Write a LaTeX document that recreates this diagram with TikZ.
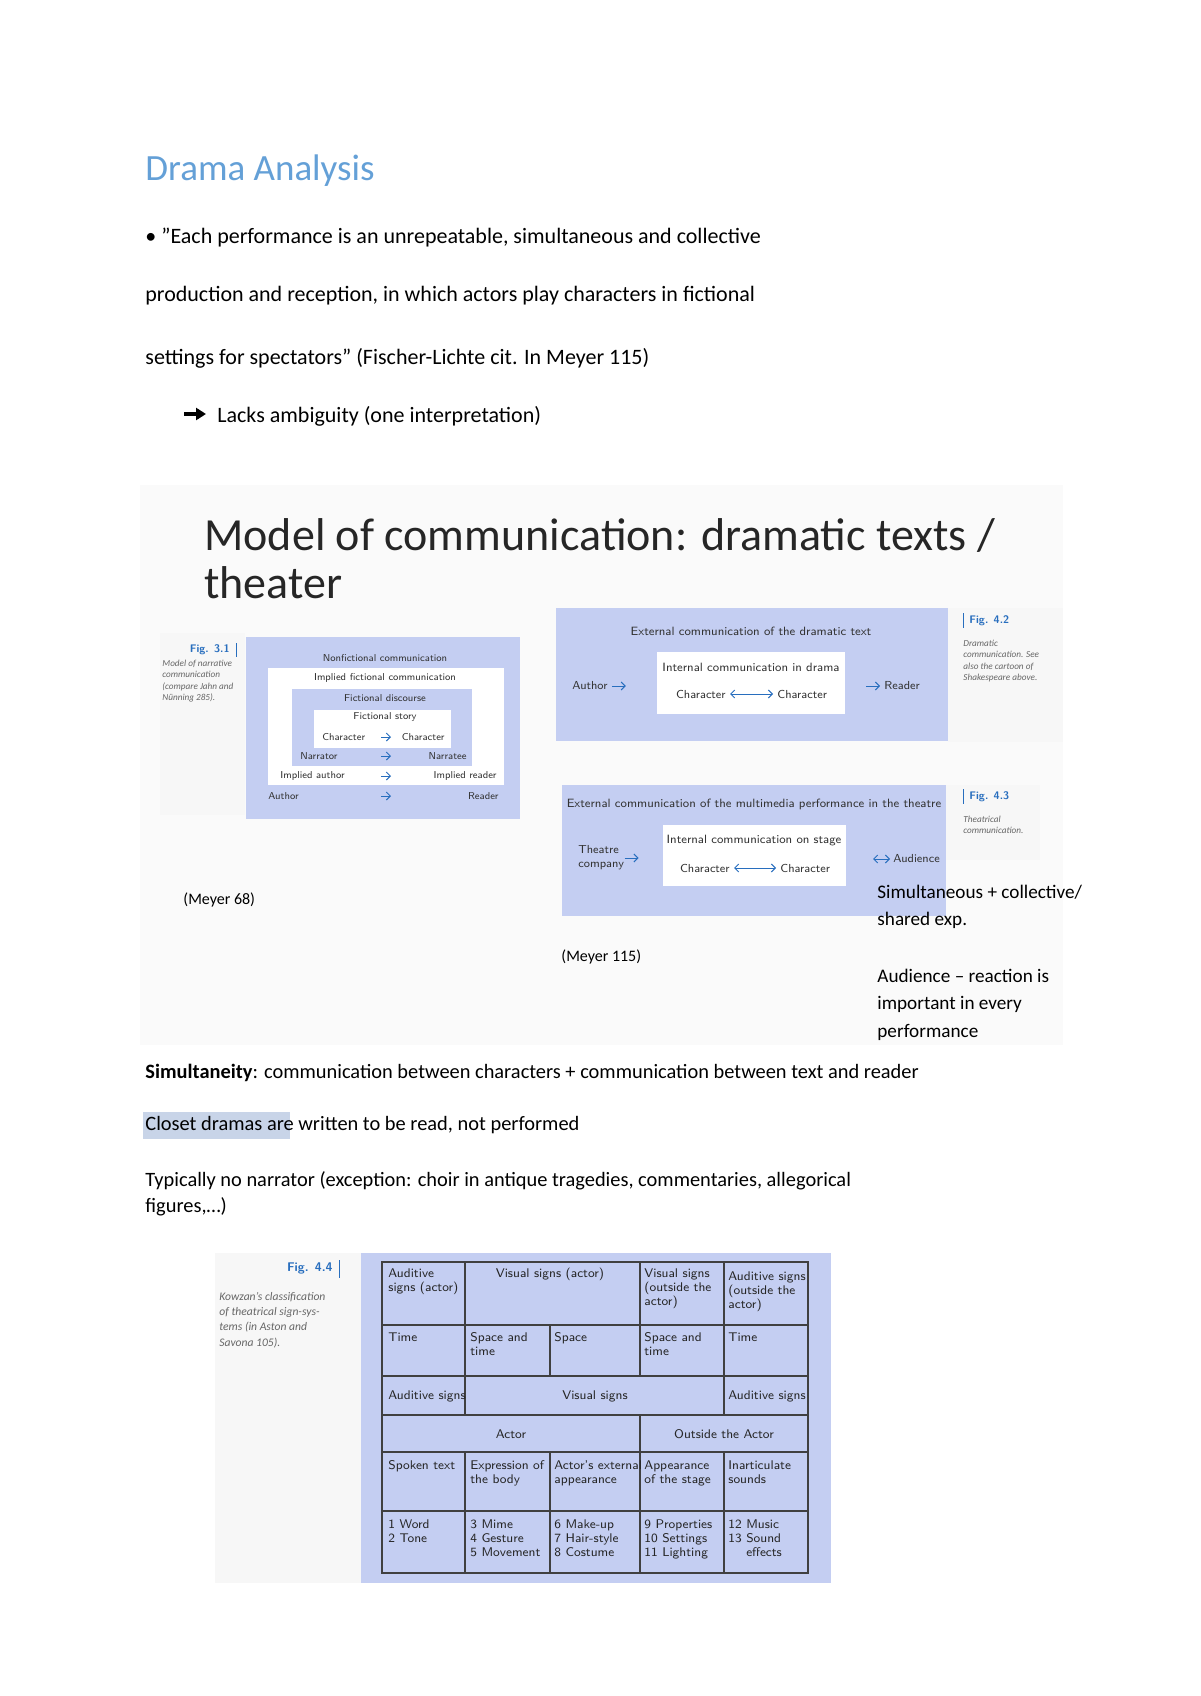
\documentclass[tikz,border=0pt]{standalone}
\usepackage{fontspec}
\setmainfont{Carlito}
\usetikzlibrary{arrows.meta,calc}
\definecolor{boxblue}{RGB}{196,206,242}
\definecolor{titleblue}{RGB}{100,160,215}
\definecolor{figblue}{RGB}{40,110,190}
\definecolor{hl}{RGB}{200,212,232}
\tikzset{
 body/.style={anchor=west,font=\fontsize{11}{13}\selectfont,inner sep=0},
 ft/.style={font=\sffamily\fontsize{5}{6}\selectfont,inner sep=0,text=black!80},
 fta/.style={font=\sffamily\fontsize{5.8}{7}\selectfont,inner sep=0,text=black!80},
 captxt/.style={font=\itshape\fontsize{4.6}{5.6}\selectfont,inner sep=0,text=black!60,anchor=north west,align=left},
 figl/.style={font=\sffamily\bfseries\fontsize{5.5}{6}\selectfont,text=figblue,inner sep=0},
 barr/.style={-{Straight Barb[length=2pt]},figblue,line width=0.5pt},
 darr/.style={{Straight Barb[length=2pt]}-{Straight Barb[length=2pt]},figblue,line width=0.5pt},
 cell/.style={font=\sffamily\fontsize{6.3}{7.2}\selectfont,inner sep=0,anchor=north west,align=left,text=black!85},
 tline/.style={line width=0.7pt,black!75}
}
\begin{document}
\begin{tikzpicture}[x=0.5pt,y=-0.5pt]
\useasboundingbox (0,0) rectangle (1200,1696);
\fill[white] (0,0) rectangle (1200,1696);
% heading
\node[anchor=west,inner sep=0,text=titleblue,font=\fontsize{18.5}{20}\selectfont] (title) at (145,171) {Drama Analysis};
\node[body] (l1) at (145,238) {• "Each performance is an unrepeatable, simultaneous and collective};
\node[body] (l2) at (145,296) {production and reception, in which actors play characters in fictional};
\node[body] (l3) at (145,358) {settings for spectators" (Fischer-Lichte cit. In Meyer 115)};
\coordinate (as) at (184,414);
\coordinate (ae) at (206,414);
\draw[-{Triangle[length=5pt,width=6pt]},line width=1.6pt] (as) -- (ae);
\node[body] (l4) at (217,416) {Lacks ambiguity (one interpretation)};
% slide
\fill[black!2] (140,485) rectangle (1063,1045);
\node[anchor=west,inner sep=0,font=\fontsize{23}{25}\selectfont,text=black!85] (st1) at (204,536) {Model of communication: dramatic texts /};
\node[anchor=west,inner sep=0,font=\fontsize{23}{25}\selectfont,text=black!85] (st2) at (204,583) {theater};
% fig 3.1
\fill[black!3] (160,633) rectangle (245,815);
\node[figl,anchor=east] (f31) at (230,650) {Fig. 3.1};
\draw[figblue,line width=0.4pt] (236,643) -- (236,657);
\node[captxt] (c31) at (162,660) {Model of narrative\\communication\\(compare Jahn and\\Nünning 285).};
\fill[boxblue] (246,637) rectangle (520,819);
\fill[white] (268,668) rectangle (504,785);
\fill[boxblue] (292,689) rectangle (472,766);
\fill[white] (314,710) rectangle (451,748);
\node[ft] (nf) at (385,658) {Nonfictional communication};
\node[ft] (ifc) at (385,678) {Implied fictional communication};
\node[ft] (fd) at (385,698) {Fictional discourse};
\node[ft] (fs) at (385,717) {Fictional story};
\node[ft,anchor=west] (ch1) at (322,737) {Character};
\node[ft,anchor=east] (ch2) at (445,737) {Character};
\node[ft,anchor=west] (nar) at (300,756) {Narrator};
\node[ft,anchor=east] (nee) at (467,756) {Narratee};
\node[ft,anchor=west] (ia) at (280,776) {Implied author};
\node[ft,anchor=east] (ir) at (497,776) {Implied reader};
\node[ft,anchor=west] (au) at (268,796) {Author};
\node[ft,anchor=east] (re) at (499,796) {Reader};
\foreach \y/\n in {737/a,756/b,776/c,796/d}{\coordinate (p\n) at (381,\y); \coordinate (q\n) at (391,\y); \draw[barr] (p\n) -- (q\n);}
\node[body,font=\fontsize{8}{9}\selectfont] (m68) at (183,900) {(Meyer 68)};
% fig 4.2
\fill[black!3] (948,608) rectangle (1063,742);
\fill[boxblue] (556,608) rectangle (948,741);
\fill[white] (657,652) rectangle (845,714);
\node[ft,font=\sffamily\fontsize{6}{7}\selectfont] (e42) at (751,631) {External communication of the dramatic text};
\node[ft,font=\sffamily\fontsize{6}{7}\selectfont] (i42) at (751,667) {Internal communication in drama};
\node[fta,anchor=east] (c42a) at (726,694) {Character};
\node[fta,anchor=west] (c42b) at (777,694) {Character};
\draw[darr] ($(c42a.east)+(4,0)$) -- ($(c42b.west)+(-4,0)$);
\node[fta,anchor=west] (a42) at (572,686) {Author};
\draw[barr] ($(a42.east)+(4,0)$) -- ++(14,0);
\node[fta,anchor=west] (r42) at (884,686) {Reader};
\draw[barr] ($(r42.west)+(-18,0)$) -- ($(r42.west)+(-4,0)$);
\draw[figblue,line width=0.4pt] (963,613) -- (963,628);
\node[figl,anchor=west] (f42) at (969,621) {Fig. 4.2};
\node[captxt] (c42) at (963,640) {Dramatic\\communication. See\\also the cartoon of\\Shakespeare above.};
% fig 4.3
\fill[black!3] (946,785) rectangle (1040,860);
\fill[boxblue] (562,785) rectangle (946,916);
\fill[white] (663,825) rectangle (846,886);
\node[ft,font=\sffamily\fontsize{6}{7}\selectfont] (e43) at (754,804) {External communication of the multimedia performance in the theatre};
\node[ft,font=\sffamily\fontsize{6}{7}\selectfont] (i43) at (754,841) {Internal communication on stage};
\node[fta,anchor=east] (c43a) at (730,868) {Character};
\node[fta,anchor=west] (c43b) at (780,868) {Character};
\draw[darr] ($(c43a.east)+(4,0)$) -- ($(c43b.west)+(-4,0)$);
\node[fta,anchor=west,align=left] (tc) at (578,858) {Theatre\\company};
\draw[barr] (tc.east) -- ++(14,0);
\node[fta,anchor=west] (aud) at (893,859) {Audience};
\draw[darr] ($(aud.west)+(-20,0)$) -- ($(aud.west)+(-3,0)$);
\draw[figblue,line width=0.4pt] (963,789) -- (963,804);
\node[figl,anchor=west] (f43) at (969,797) {Fig. 4.3};
\node[captxt] (c43) at (963,816) {Theatrical\\communication.};
\node[body,font=\fontsize{8}{9}\selectfont] (m115) at (561,957) {(Meyer 115)};
% side notes
\node[anchor=north west,inner sep=0,align=left,font=\fontsize{9.6}{13.6}\selectfont] (sim) at (877,885) {Simultaneous + collective/\\shared exp.};
\node[anchor=north west,inner sep=0,align=left,font=\fontsize{9.6}{13.6}\selectfont] (audn) at (877,969) {Audience – reaction is\\important in every\\performance};
% paragraphs
\node[body,font=\fontsize{10.2}{12}\selectfont] (simul) at (145,1073) {\textbf{Simultaneity}: communication between characters + communication between text and reader};
\fill[hl] (143,1112) rectangle (290,1139);
\node[body,font=\fontsize{10.2}{12}\selectfont] (clos) at (145,1125) {Closet dramas are written to be read, not performed};
\node[anchor=north west,inner sep=0,align=left,font=\fontsize{10.2}{13.2}\selectfont] (typ) at (145,1171) {Typically no narrator (exception: choir in antique tragedies, commentaries, allegorical\\figures,…)};
% fig 4.4
\fill[black!3] (215,1253) rectangle (361,1583);
\node[figl,anchor=east,font=\sffamily\bfseries\fontsize{6.3}{7}\selectfont] (f44) at (333,1268) {Fig. 4.4};
\draw[figblue,line width=0.4pt] (339,1260) -- (339,1278);
\node[captxt,font=\itshape\fontsize{5.8}{7.6}\selectfont] (c44) at (219,1292) {Kowzan's classification\\of theatrical sign-sys-\\tems (in Aston and\\Savona 105).};
\fill[boxblue] (361,1253) rectangle (831,1583);
\draw[tline] (382,1262) rectangle (808,1573);
\foreach \y in {1325,1376,1415,1452,1511}{\draw[tline] (382,\y) -- (808,\y);}
\draw[tline] (465,1262) -- (465,1415);
\draw[tline] (465,1452) -- (465,1573);
\draw[tline] (550,1325) -- (550,1376);
\draw[tline] (550,1452) -- (550,1573);
\draw[tline] (640,1262) -- (640,1376);
\draw[tline] (640,1415) -- (640,1573);
\draw[tline] (724,1262) -- (724,1415);
\draw[tline] (724,1452) -- (724,1573);
\node[cell] (t11) at (388,1268) {Auditive\\signs (actor)};
\node[cell,anchor=north] (t12) at (550,1268) {Visual signs (actor)};
\node[cell] (t13) at (644,1268) {Visual signs\\(outside the\\actor)};
\node[cell] (t14) at (728,1271) {Auditive signs\\(outside the\\actor)};
\node[cell] (t21) at (388,1332) {Time};
\node[cell] (t22) at (470,1332) {Space and\\time};
\node[cell] (t23) at (554,1332) {Space};
\node[cell] (t24) at (644,1332) {Space and\\time};
\node[cell] (t25) at (728,1332) {Time};
\node[cell,anchor=west] (t31) at (388,1396) {Auditive signs};
\node[cell,anchor=center] (t32) at (595,1396) {Visual signs};
\node[cell,anchor=west] (t33) at (728,1396) {Auditive signs};
\node[cell,anchor=center] (t41) at (511,1434) {Actor};
\node[cell,anchor=center] (t42) at (724,1434) {Outside the Actor};
\node[cell] (t51) at (388,1460) {Spoken text};
\node[cell] (t52) at (470,1460) {Expression of\\the body};
\node[cell] (t53) at (554,1460) {Actor's external\\appearance};
\node[cell] (t54) at (644,1460) {Appearance\\of the stage};
\node[cell] (t55) at (728,1460) {Inarticulate\\sounds};
\node[cell] (t61) at (388,1519) {1 Word\\2 Tone};
\node[cell] (t62) at (470,1519) {3 Mime\\4 Gesture\\5 Movement};
\node[cell] (t63) at (554,1519) {6 Make-up\\7 Hair-style\\8 Costume};
\node[cell] (t64) at (644,1519) {9 Properties\\10 Settings\\11 Lighting};
\node[cell] (t65) at (728,1519) {12 Music\\13 Sound\\\phantom{13 }effects};
\end{tikzpicture}
\end{document}
